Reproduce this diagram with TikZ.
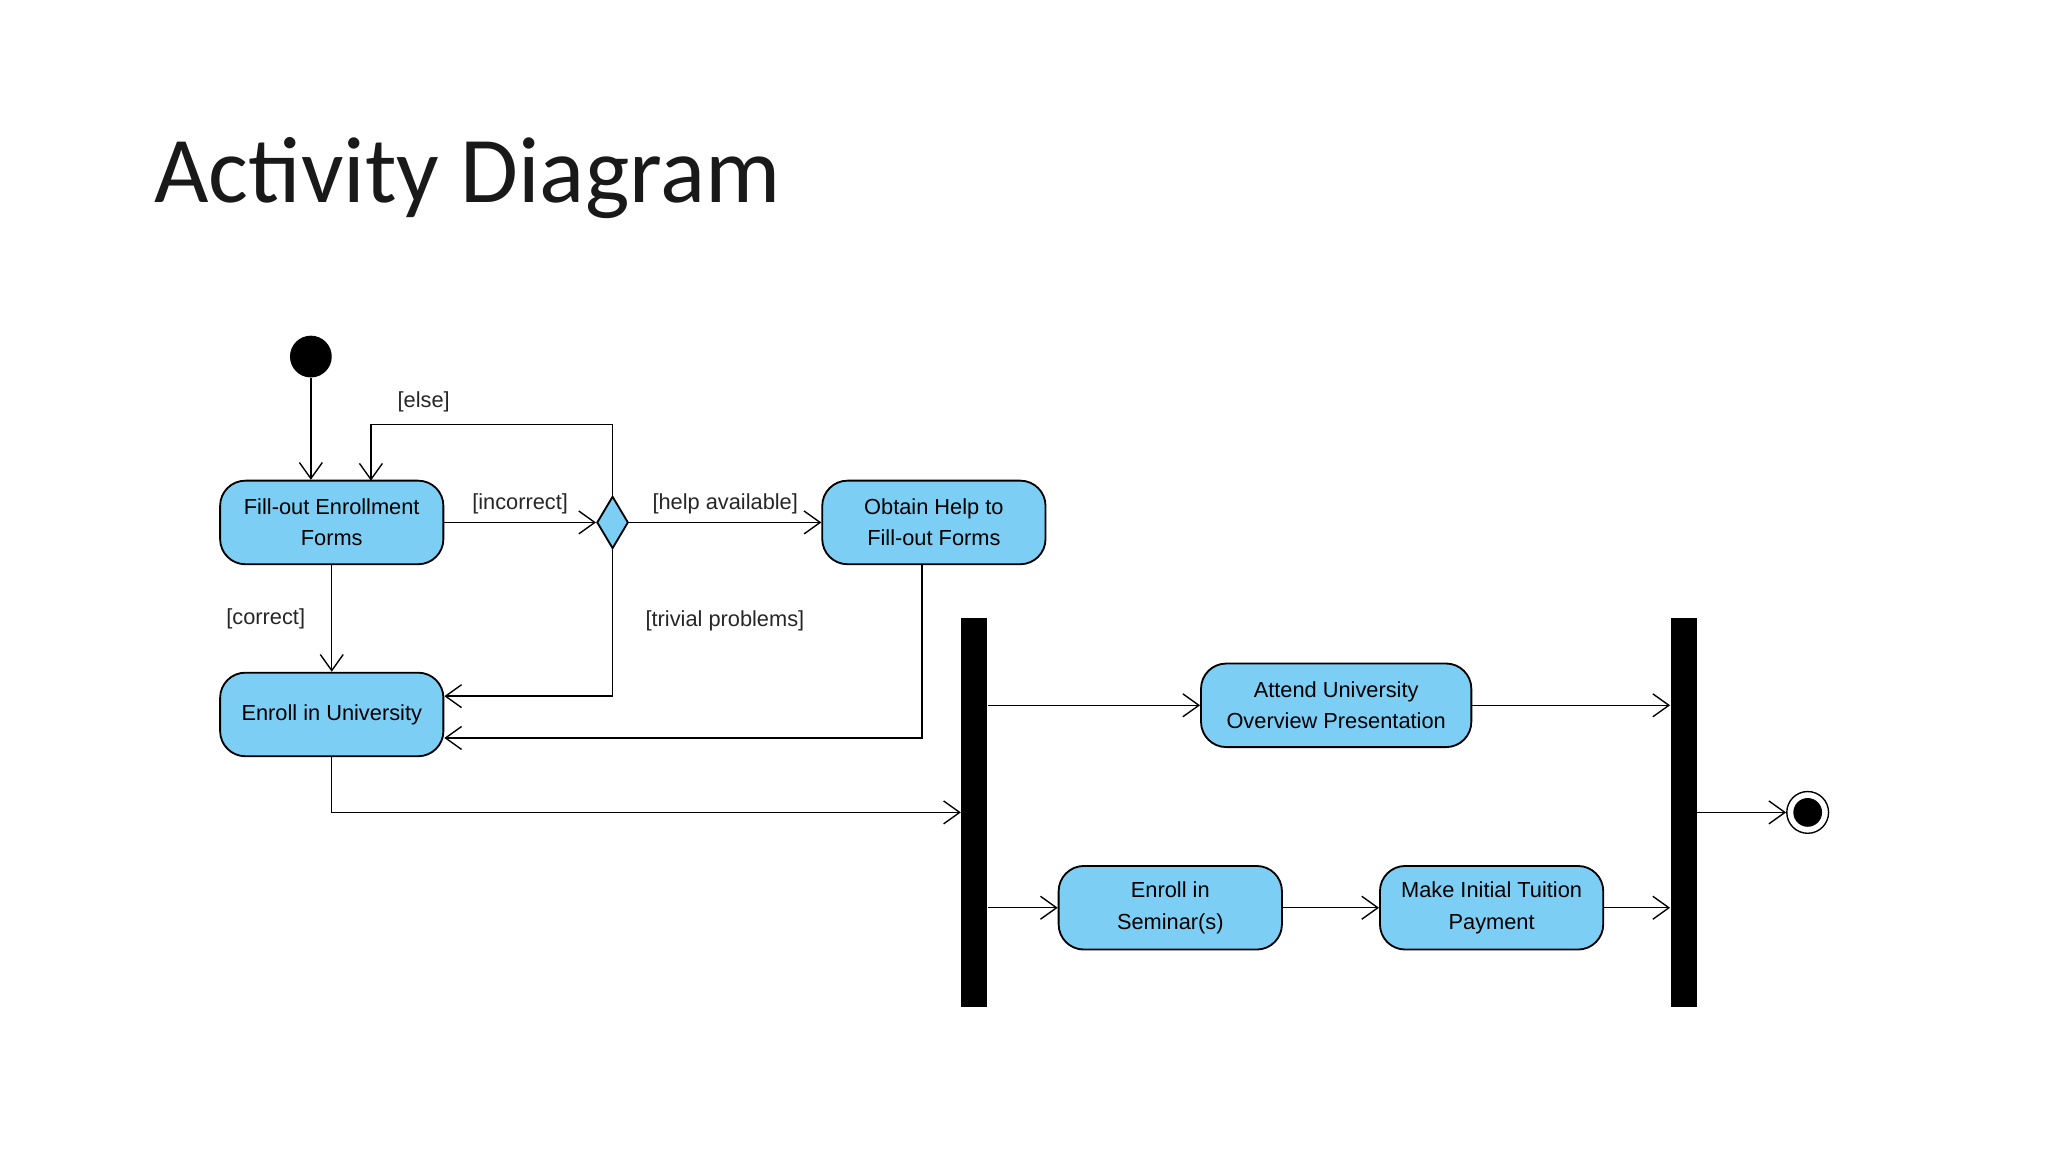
\documentclass[tikz,border=0pt]{standalone}
\usepackage{fontspec}
\setmainfont{Liberation Sans}
\newfontfamily\titlefont{Carlito}
\usetikzlibrary{arrows.meta}
\usetikzlibrary{shapes}
\usetikzlibrary{positioning}
\definecolor{actfill}{RGB}{125,206,245}

\begin{document}
\begin{tikzpicture}
	[x=0.02cm, y=-0.02cm,
	font=\fontsize{9.5}{13.6}\selectfont,
	>={Straight Barb[length=7pt,width=10pt]}]

\tikzstyle{action}=[draw, thick, fill=actfill,
	rounded corners=11pt, minimum width=3.42cm, minimum height=1.28cm,
	align=center, inner sep=1pt]
\tikzstyle{bar}=[fill=black, minimum width=0.4cm, minimum height=5.96cm, inner sep=0pt]
\tikzstyle{flow}=[->, semithick]
\tikzstyle{guard}=[text=black!85]

\useasboundingbox (0,0) rectangle (1568,882);

% Title
\node[anchor=base west, text=black!90, font=\titlefont\fontsize{41}{45}\selectfont] at (112,155) {Activity Diagram};

% Actions
\node[circle, fill=black, minimum size=0.64cm, inner sep=0pt] (start) at (238,273) {};
\node[action] (fill) at (254,400) {Fill-out Enrollment\\Forms};
\node[diamond, draw, thick, fill=actfill, minimum width=0.48cm, minimum height=0.8cm,
	inner sep=0pt, aspect=0.6] (check) at (469,400) {};
\node[action] (help) at (715,400) {Obtain Help to\\Fill-out Forms};
\node[action] (enroll) at (254,547) {Enroll in University};
\node[bar] (fork) at (746,622) {};
\node[action, minimum width=4.14cm] (attend) at (1023,540) {Attend University\\Overview Presentation};
\node[action] (seminar) at (896,695) {Enroll in\\Seminar(s)};
\node[action] (pay) at (1142,695) {Make Initial Tuition\\Payment};
\node[bar] (join) at (1289,622) {};
\node[circle, draw, semithick, minimum size=0.64cm, inner sep=0pt] (final) at (1384,622) {};
\node[circle, fill=black, minimum size=0.44cm, inner sep=0pt] at (final) {};

% Flows
\draw[flow] (start) -- (start |- fill.north);
\draw[flow] (check.north) |- (284,325) -- (284,368)
	node[pos=0, guard, above=2pt, xshift=23] {[else]};
\draw[flow] (fill) -- (check) node[midway, above, guard] {[incorrect]};
\draw[flow] (check) -- (help) node[midway, above, guard] {[help available]};
\draw[flow] (check.south) |- (enroll.east |- 0,533);
\draw[flow] (help.south -| 706,0) |- (enroll.east |- 0,565);
\draw[flow] (fill) -- (enroll) node[midway, left=8pt, guard] {[correct]};
\draw[flow] (enroll) |- (fork);
\draw[flow] (fork.east |- attend) -- (attend);
\draw[flow] (fork.east |- seminar) -- (seminar);
\draw[flow] (seminar) -- (pay);
\draw[flow] (attend) -- (join.west |- attend);
\draw[flow] (pay) -- (join.west |- pay);
\draw[flow] (join) -- (final);

\node[guard] at (555,475) {[trivial problems]};

\end{tikzpicture}
\end{document}
